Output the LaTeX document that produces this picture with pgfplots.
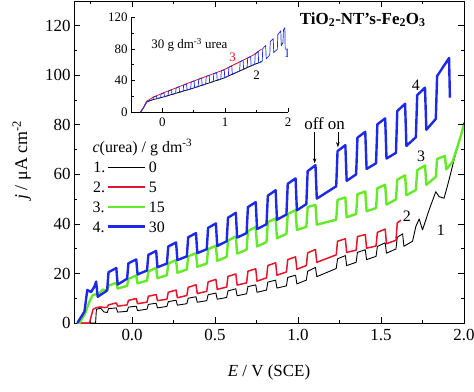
\documentclass[border=0pt]{standalone}
\usepackage{fontspec}
\setmainfont{Liberation Serif}
\usepackage{pgfplots}
\pgfplotsset{compat=1.18}
\usetikzlibrary{arrows.meta}
\definecolor{cblue}{RGB}{30,40,235}
\definecolor{cgreen}{RGB}{100,235,40}
\definecolor{cred}{RGB}{230,20,40}
\newcommand{\fbig}{\fontsize{17}{20}\selectfont}
\newcommand{\flab}{\fontsize{18}{21}\selectfont}
\newcommand{\fleg}{\fontsize{16}{18}\selectfont}
\newcommand{\fsmall}{\fontsize{13}{15}\selectfont}
\begin{document}
\begin{tikzpicture}
\path[use as bounding box] (-74bp,-69bp) rectangle (400bp,323bp);
\begin{axis}[
 at={(0,0)}, anchor=south west,
 scale only axis, width=390bp, height=322bp,
 xmin=-0.35, xmax=2.0, ymin=0, ymax=130,
 xtick={0,0.5,1,1.5,2}, minor xtick={-0.25,0.25,0.75,1.25,1.75},
 ytick={0,20,...,120}, minor ytick={10,30,...,130},
 tick align=inside, major tick length=6bp, minor tick length=3.5bp,
 axis line style={line width=0.9bp},
 every tick/.style={line width=0.8bp, black},
 xticklabel style={/pgf/number format/fixed, /pgf/number format/fixed zerofill, /pgf/number format/precision=1, yshift=-3bp},
 /pgf/number format/assume math mode=true,
 tick label style={font=\fbig},
 xlabel={\textit{E} / V (SCE)},
 ylabel={\textit{j} / μA cm\textsuperscript{-2}},
 xlabel style={font=\fbig, at={(axis description cs:0.5,-0.165)}, anchor=base},
 ylabel style={font=\flab, at={(axis description cs:-0.1205,0.506)}, anchor=base},
 legend style={at={(axis cs:-0.239,65.5)}, anchor=north west, draw=none, fill=none,
   font=\fleg, row sep=4.7bp, column sep=3bp, inner sep=0pt,
   nodes={inner sep=0pt, text height=12bp, text depth=3bp},
   cells={anchor=base west}},
 line join=round,
]
\addplot[black, line width=0.9bp,
 legend image code/.code={\node[anchor=base east, inner sep=0pt, font=\fleg, text=black] at (-2bp,0) {1.};
   \draw[black, line width=0.9bp] (0bp,5.5bp) -- (37bp,5.5bp);}]
coordinates {(-0.33,0)(-0.22,0)(-0.215,5.5)(-0.19,6)(-0.17,4.5)
(-0.15,4.2)(-0.142,5.8)(-0.095,6.1)(-0.087,4.4)
(-0.03,4.7)(-0.022,6.4)(0.025,6.8)(0.033,5.0)
(0.09,5.6)(0.098,7.5)(0.145,8.0)(0.153,6.1)
(0.21,6.7)(0.218,8.6)(0.265,9.2)(0.273,7.2)
(0.33,7.8)(0.338,10.0)(0.385,10.6)(0.393,8.4)
(0.45,9.0)(0.458,11.4)(0.505,12.1)(0.513,9.6)
(0.57,10.3)(0.578,13.0)(0.625,13.8)(0.633,11.0)
(0.69,11.8)(0.698,14.7)(0.745,15.4)(0.753,12.4)
(0.81,13.3)(0.818,16.5)(0.865,17.3)(0.873,14.1)
(0.93,15.0)(0.938,18.4)(0.985,19.3)(0.993,15.8)
(1.05,17.3)(1.058,20.9)(1.105,22.4)(1.113,18.7)
(1.23,22.0)(1.238,25.9)(1.285,27.2)(1.293,23.2)
(1.35,24.5)(1.358,28.5)(1.405,29.6)(1.413,25.6)
(1.47,26.9)(1.478,30.9)(1.525,32.4)(1.533,28.2)
(1.59,29.9)(1.598,34.6)(1.63,36)(1.638,31)(1.69,33)(1.71,39)(1.73,42)(1.75,37.6)
(1.79,45.7)(1.83,53)(1.85,51)(1.88,50.4)(1.91,57.8)(1.94,65.9)(1.98,75.3)(2.0,81)};
\addlegendentry{0}
\addplot[cred, line width=1.5bp,
 legend image code/.code={\node[anchor=base east, inner sep=0pt, font=\fleg, text=black] at (-2bp,0) {2.};
   \draw[cred, line width=1.8bp] (0bp,5.5bp) -- (37bp,5.5bp);}]
coordinates {(-0.33,0)(-0.257,0)(-0.245,3)(-0.235,5.5)(-0.215,6.2)(-0.19,6.5)(-0.165,6.2)
(-0.15,6.4)(-0.142,7.3)(-0.095,8.1)(-0.087,6.8)
(-0.03,7.3)(-0.022,9.1)(0.025,9.9)(0.033,7.8)
(0.09,8.4)(0.098,10.8)(0.145,11.5)(0.153,9.0)
(0.21,9.6)(0.218,12.4)(0.265,13.3)(0.273,10.2)
(0.33,11.1)(0.338,14.4)(0.385,15.4)(0.393,11.9)
(0.45,12.8)(0.458,16.6)(0.505,17.6)(0.513,13.6)
(0.57,14.5)(0.578,18.8)(0.625,19.8)(0.633,15.3)
(0.69,16.2)(0.698,20.9)(0.745,21.9)(0.753,16.9)
(0.81,18.2)(0.818,23.2)(0.865,24.3)(0.873,19.3)
(0.93,20.6)(0.938,25.6)(0.985,26.7)(0.993,21.7)
(1.05,23.2)(1.058,28.3)(1.105,29.7)(1.113,24.5)
(1.23,27.5)(1.238,33.0)(1.285,34.0)(1.293,28.5)
(1.35,29.4)(1.358,34.9)(1.405,35.7)(1.413,30.2)
(1.47,31.1)(1.478,36.6)(1.525,37.9)(1.533,32.0)
(1.59,33.4)(1.598,40.4)(1.62,41.5)};
\addlegendentry{5}
\addplot[cgreen, line width=2.4bp,
 legend image code/.code={\node[anchor=base east, inner sep=0pt, font=\fleg, text=black] at (-2bp,0) {3.};
   \draw[cgreen, line width=2.4bp] (0bp,5.5bp) -- (37bp,5.5bp);}]
coordinates {(-0.33,0)(-0.317,0)(-0.287,3.3)(-0.257,8.6)(-0.237,11.3)(-0.2,11.8)(-0.177,13.5)
(-0.15,13)(-0.142,15)(-0.095,16.3)(-0.087,13.9)
(-0.03,15)(-0.022,17.8)(0.025,19.2)(0.033,16.0)
(0.09,17.1)(0.098,20.8)(0.145,22.3)(0.153,18.1)
(0.21,19.3)(0.218,24.0)(0.265,25.4)(0.273,20.3)
(0.33,21.6)(0.338,26.9)(0.385,28.2)(0.393,22.7)
(0.45,24.0)(0.458,29.8)(0.505,31.2)(0.513,25.1)
(0.57,26.7)(0.578,33.2)(0.625,35.0)(0.633,28.0)
(0.69,29.6)(0.698,37.1)(0.745,38.8)(0.753,30.9)
(0.81,32.7)(0.818,40.7)(0.865,42.2)(0.873,34.2)
(0.93,36.0)(0.938,44.0)(0.985,45.6)(0.993,37.6)
(1.05,38.8)(1.058,46.8)(1.105,47.7)(1.113,39.7)
(1.23,41.7)(1.238,49.7)(1.285,50.7)(1.293,42.7)
(1.35,44.0)(1.358,52.0)(1.405,53.1)(1.413,45.1)
(1.47,46.4)(1.478,54.4)(1.525,55.8)(1.533,47.8)
(1.59,49.9)(1.598,57.9)(1.645,59.6)(1.653,51.6)
(1.71,53.7)(1.718,61.7)(1.765,63.6)(1.773,55.8)
(1.83,59.0)(1.838,66.2)(1.885,67.5)(1.893,62)(1.93,65)(1.96,71)(2.0,80)};
\addlegendentry{15}
\addplot[cblue, line width=2.4bp,
 legend image code/.code={\node[anchor=base east, inner sep=0pt, font=\fleg, text=black] at (-2bp,0) {4.};
   \draw[cblue, line width=2.4bp] (0bp,5.5bp) -- (37bp,5.5bp);}]
coordinates {(-0.33,0)(-0.287,4.6)(-0.27,13.3)(-0.247,12.5)(-0.227,14.7)(-0.217,16.7)(-0.207,10.6)(-0.157,12.8)
(-0.15,13.5)(-0.142,20.5)(-0.095,22.2)(-0.087,15.5)
(-0.03,17.9)(-0.022,24.1)(0.025,25.7)(0.033,19.6)
(0.09,21.2)(0.098,27.5)(0.145,29.1)(0.153,22.5)
(0.21,24.0)(0.218,30.9)(0.265,32.5)(0.273,25.4)
(0.33,26.9)(0.338,34.6)(0.385,36.3)(0.393,28.2)
(0.45,29.8)(0.458,38.4)(0.505,40.2)(0.513,31.1)
(0.57,33.0)(0.578,42.5)(0.625,44.5)(0.633,34.5)
(0.69,36.3)(0.698,46.8)(0.745,48.8)(0.753,37.9)
(0.81,39.9)(0.818,51.4)(0.865,53.6)(0.873,41.7)
(0.93,43.8)(0.938,56.2)(0.985,58.4)(0.993,45.5)
(1.05,48.0)(1.058,61.3)(1.105,63.7)(1.113,50.2)
(1.23,55.2)(1.238,69.4)(1.285,71.8)(1.293,57.4)
(1.35,60.0)(1.358,74.8)(1.405,77.2)(1.413,62.2)
(1.47,64.5)(1.478,80.2)(1.525,82.6)(1.533,66.4)
(1.59,68.7)(1.598,85.6)(1.645,88.5)(1.653,71.5)
(1.71,75.0)(1.718,92.0)(1.765,95.0)(1.773,78.0)
(1.83,82.4)(1.838,99.7)(1.91,107)(1.915,91)};
\addlegendentry{30}
\node[anchor=base west, inner sep=0pt, font=\fleg] at (axis cs:-0.239,68.7) {\textit{c}(urea) / g dm\textsuperscript{-3}};
\node[font=\fbig\bfseries] at (axis cs:1.39,122.4) {TiO\textsubscript{2}-NT's-Fe\textsubscript{2}O\textsubscript{3}};
\node[font=\fleg] at (axis cs:1.861,37.3) {1};
\node[font=\fleg] at (axis cs:1.655,43) {2};
\node[font=\fleg] at (axis cs:1.741,67.2) {3};
\node[font=\fleg] at (axis cs:1.71,96) {4};
\node[font=\fbig] at (axis cs:1.16,80.5) {off on};
\draw[-{Stealth[length=5bp,width=3.5bp]}, line width=0.5bp] (axis cs:1.10,77) -- (axis cs:1.10,64.5);
\draw[-{Stealth[length=5bp,width=3.5bp]}, line width=0.5bp] (axis cs:1.24,77.3) -- (axis cs:1.24,71);
\end{axis}
\begin{axis}[
 at={(57bp,210.7bp)}, anchor=south west,
 scale only axis, width=157bp, height=95bp,
 xmin=-0.5, xmax=2, ymin=0, ymax=120,
 axis x line*=bottom, axis y line*=left,
 xtick={0,1,2}, minor xtick={-0.5,0.5,1.5},
 ytick={0,40,80,120}, minor ytick={20,60,100},
 tick align=inside, major tick length=4bp, minor tick length=2.5bp,
 axis line style={line width=0.8bp},
 every tick/.style={line width=0.7bp, black},
 /pgf/number format/assume math mode=true,
 tick label style={font=\fsmall},
 xticklabel style={yshift=-2bp},
 line join=round,
]
\addplot[black, line width=0.8bp] coordinates {(-0.35,0)(-0.3,6)(-0.25,13)(-0.15,16)(0,19)(0.47,30)(0.97,43)(1.45,60)(1.58,64)};
\addplot[cred, line width=0.8bp] coordinates {(-0.35,0)(-0.3,6)(-0.25,14)(-0.15,19)(0,24)(0.47,38.7)(0.97,53.4)(1.45,72.4)(1.58,80)};
\addplot[cblue, line width=0.7bp] coordinates {(-0.35,0)(-0.3,6)(-0.25,13)(-0.2,15)(-0.15,16)(-0.142,19)(-0.095,20.8)(-0.087,17.1)
(-0.03,18.4)(-0.022,23)(0.025,24.8)(0.033,19.6)(0.09,21.1)(0.098,26.8)(0.145,28.5)(0.153,22.4)
(0.21,23.9)(0.218,30.6)(0.265,32.3)(0.273,25.2)(0.33,26.7)(0.338,34.3)(0.385,36.0)(0.393,28.0)
(0.45,29.5)(0.458,38.1)(0.505,39.7)(0.513,30.9)(0.57,32.6)(0.578,41.6)(0.625,43.3)(0.633,34.0)
(0.69,35.7)(0.698,45.2)(0.745,46.8)(0.753,37.2)(0.81,38.8)(0.818,48.7)(0.865,50.3)(0.873,40.3)
(0.93,42.0)(0.938,52.2)(0.985,54.0)(0.993,43.5)(1.05,45.8)(1.058,56.6)(1.105,58.7)(1.113,47.8)
(1.23,52.2)(1.238,63.7)(1.285,65.9)(1.293,54.2)(1.35,56.5)(1.358,68.5)(1.405,70.6)(1.413,58.4)
(1.47,60.6)(1.478,73.6)(1.525,76.8)(1.533,62.3)(1.59,64.5)(1.598,80.5)(1.645,84.5)(1.653,67.5)
(1.71,72.5)(1.718,89.5)(1.765,93)(1.773,75.5)(1.83,79.5)(1.838,98)(1.885,103)(1.893,84)
(1.92,88)(1.928,104)(1.95,107)(1.955,80)};
\node[font=\fsmall] at (axis cs:0.43,85) {30 g dm\textsuperscript{-3} urea};
\node[font=\fsmall, text=cred] at (axis cs:1.12,70) {3};
\node[font=\fsmall] at (axis cs:1.5,47) {2};
\node[font=\fsmall, text=cblue] at (axis cs:1.985,75) {1};
\end{axis}
\end{tikzpicture}
\end{document}
